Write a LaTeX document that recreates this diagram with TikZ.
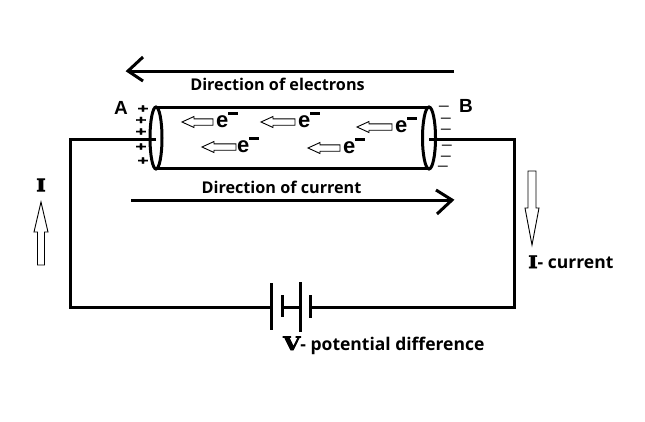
\documentclass[tikz,border=0pt]{standalone}
\usepackage{fontspec}
\setmainfont{Open Sans}
\newfontfamily\arialf{Liberation Sans}
\newfontfamily\heavyf[BoldFeatures={FakeBold=4,FakeStretch=1.2}]{DejaVu Serif}
\newfontfamily\plusf[BoldFeatures={FakeBold=2,FakeStretch=1.6}]{Liberation Sans}
\newfontfamily\minusf[FakeStretch=1.9]{Liberation Sans}
\newcommand{\eminus}{e\raisebox{12pt}{\rule{10pt}{2.8pt}}}
\newcommand{\hollowarrow}[3]{% tip x, tip y, length
  \draw[hollow,shift={(#1,#2)}] (0,0) -- (12,-5.5) -- (12,-3.2) -- (#3,-3.2) -- (#3,3.2) -- (12,3.2) -- (12,5.5) -- cycle;}
\tikzset{
  wire/.style={line width=3pt,line join=miter},
  hollow/.style={draw=black,fill=white,line width=0.9pt,line join=miter},
  label/.style={font=\bfseries\fontsize{16.2}{18}\selectfont,inner sep=0pt,text=black},
  letter/.style={font=\arialf\bfseries\fontsize{19}{20}\selectfont,inner sep=0pt},
  electron/.style={font=\arialf\bfseries\fontsize{22}{22}\selectfont,inner sep=0pt,anchor=base west},
  plus/.style={font=\plusf\bfseries\fontsize{12}{12}\selectfont,inner sep=0pt},
  dash mark/.style={font=\minusf\bfseries\fontsize{10.5}{11}\selectfont,inner sep=0pt},
}
\begin{document}
\begin{tikzpicture}[x=1pt,y=-1pt]
\useasboundingbox (0,0) rectangle (645,421);
% circuit
\coordinate (wireA) at (156,139);
\coordinate (wireB) at (429,139);
\coordinate (batL) at (271,307);
\coordinate (batR) at (310,307);
\draw[wire] (wireA) -- (70,139) -- (70,307) -- (batL);
\draw[wire] (batR) -- (514,307) -- (514,139) -- (wireB);
\coordinate (p2) at (282,307);
\coordinate (p3) at (300,307);
\draw[wire] (p2) -- (p3);
\draw[wire] (271,283) -- (271,330);
\draw[wire] (282,295) -- (282,317);
\draw[wire] (300,282) -- (300,332);
\draw[wire] (310,295) -- (310,318);
% tube
\draw[wire] (155,107) -- (430,107);
\draw[wire] (155,168) -- (430,168);
\draw[wire] (156,138) ellipse [x radius=6,y radius=31];
\draw[wire] (429,138) ellipse [x radius=6.5,y radius=31];
% direction arrows
\coordinate (eFrom) at (454,71);
\coordinate (eTo) at (128,71);
\draw[wire] (eFrom) -- (eTo);
\draw[wire] (143,57) -- (eTo) -- (143,81);
\coordinate (cFrom) at (131,200);
\coordinate (cTo) at (452,200);
\draw[wire] (cFrom) -- (cTo);
\draw[wire] (436,190) -- (cTo) -- (437,214);
% labels
\node[label] (t1) at (277.5,84) {Direction of electrons};
\node[label] (t2) at (281.5,187) {Direction of current};
\node[letter] (A) at (121,108) {A};
\node[letter] (B) at (466,106) {B};
% charges
\foreach \x/\y [count=\i] in {143/109,141/120.5,141/132,141/147,143/161}
  \node[plus] (plus\i) at (\x,\y) {+};
\foreach \x/\y [count=\i] in {444/108,446/120,446/131,447/147,446/158,443/168}
  \node[dash mark] (minus\i) at (\x,\y) {–};
% electrons
\hollowarrow{182}{122}{31}
\hollowarrow{261}{122}{34}
\hollowarrow{357}{127}{35}
\hollowarrow{202}{147}{34}
\hollowarrow{308}{148}{32}
\node[electron] (e1) at (216,127) {\eminus};
\node[electron] (e2) at (298,127) {\eminus};
\node[electron] (e3) at (395,132) {\eminus};
\node[electron] (e4) at (237,152) {\eminus};
\node[electron] (e5) at (343,153) {\eminus};
% current arrows
\draw[hollow] (41,202) -- (48,232) -- (44.5,232) -- (44.5,265) -- (37.5,265) -- (37.5,232) -- (34,232) -- cycle;
\draw[hollow] (532,245) -- (539,208) -- (536,208) -- (536,171) -- (528,171) -- (528,208) -- (525,208) -- cycle;
% texts
\node[inner sep=0pt,font=\heavyf\bfseries\fontsize{17}{17}\selectfont] (I1) at (41,185) {I};
\node[inner sep=0pt,anchor=base west] (t3) at (528,268) {{\heavyf\bfseries\fontsize{17}{17}\selectfont I}{\bfseries\fontsize{17.5}{18}\selectfont- current}};
\node[inner sep=0pt,anchor=base west] (t4) at (283,350) {{\heavyf\bfseries\fontsize{18.5}{18}\selectfont V}{\bfseries\fontsize{17.5}{18}\selectfont- potential difference}};
\end{tikzpicture}
\end{document}
